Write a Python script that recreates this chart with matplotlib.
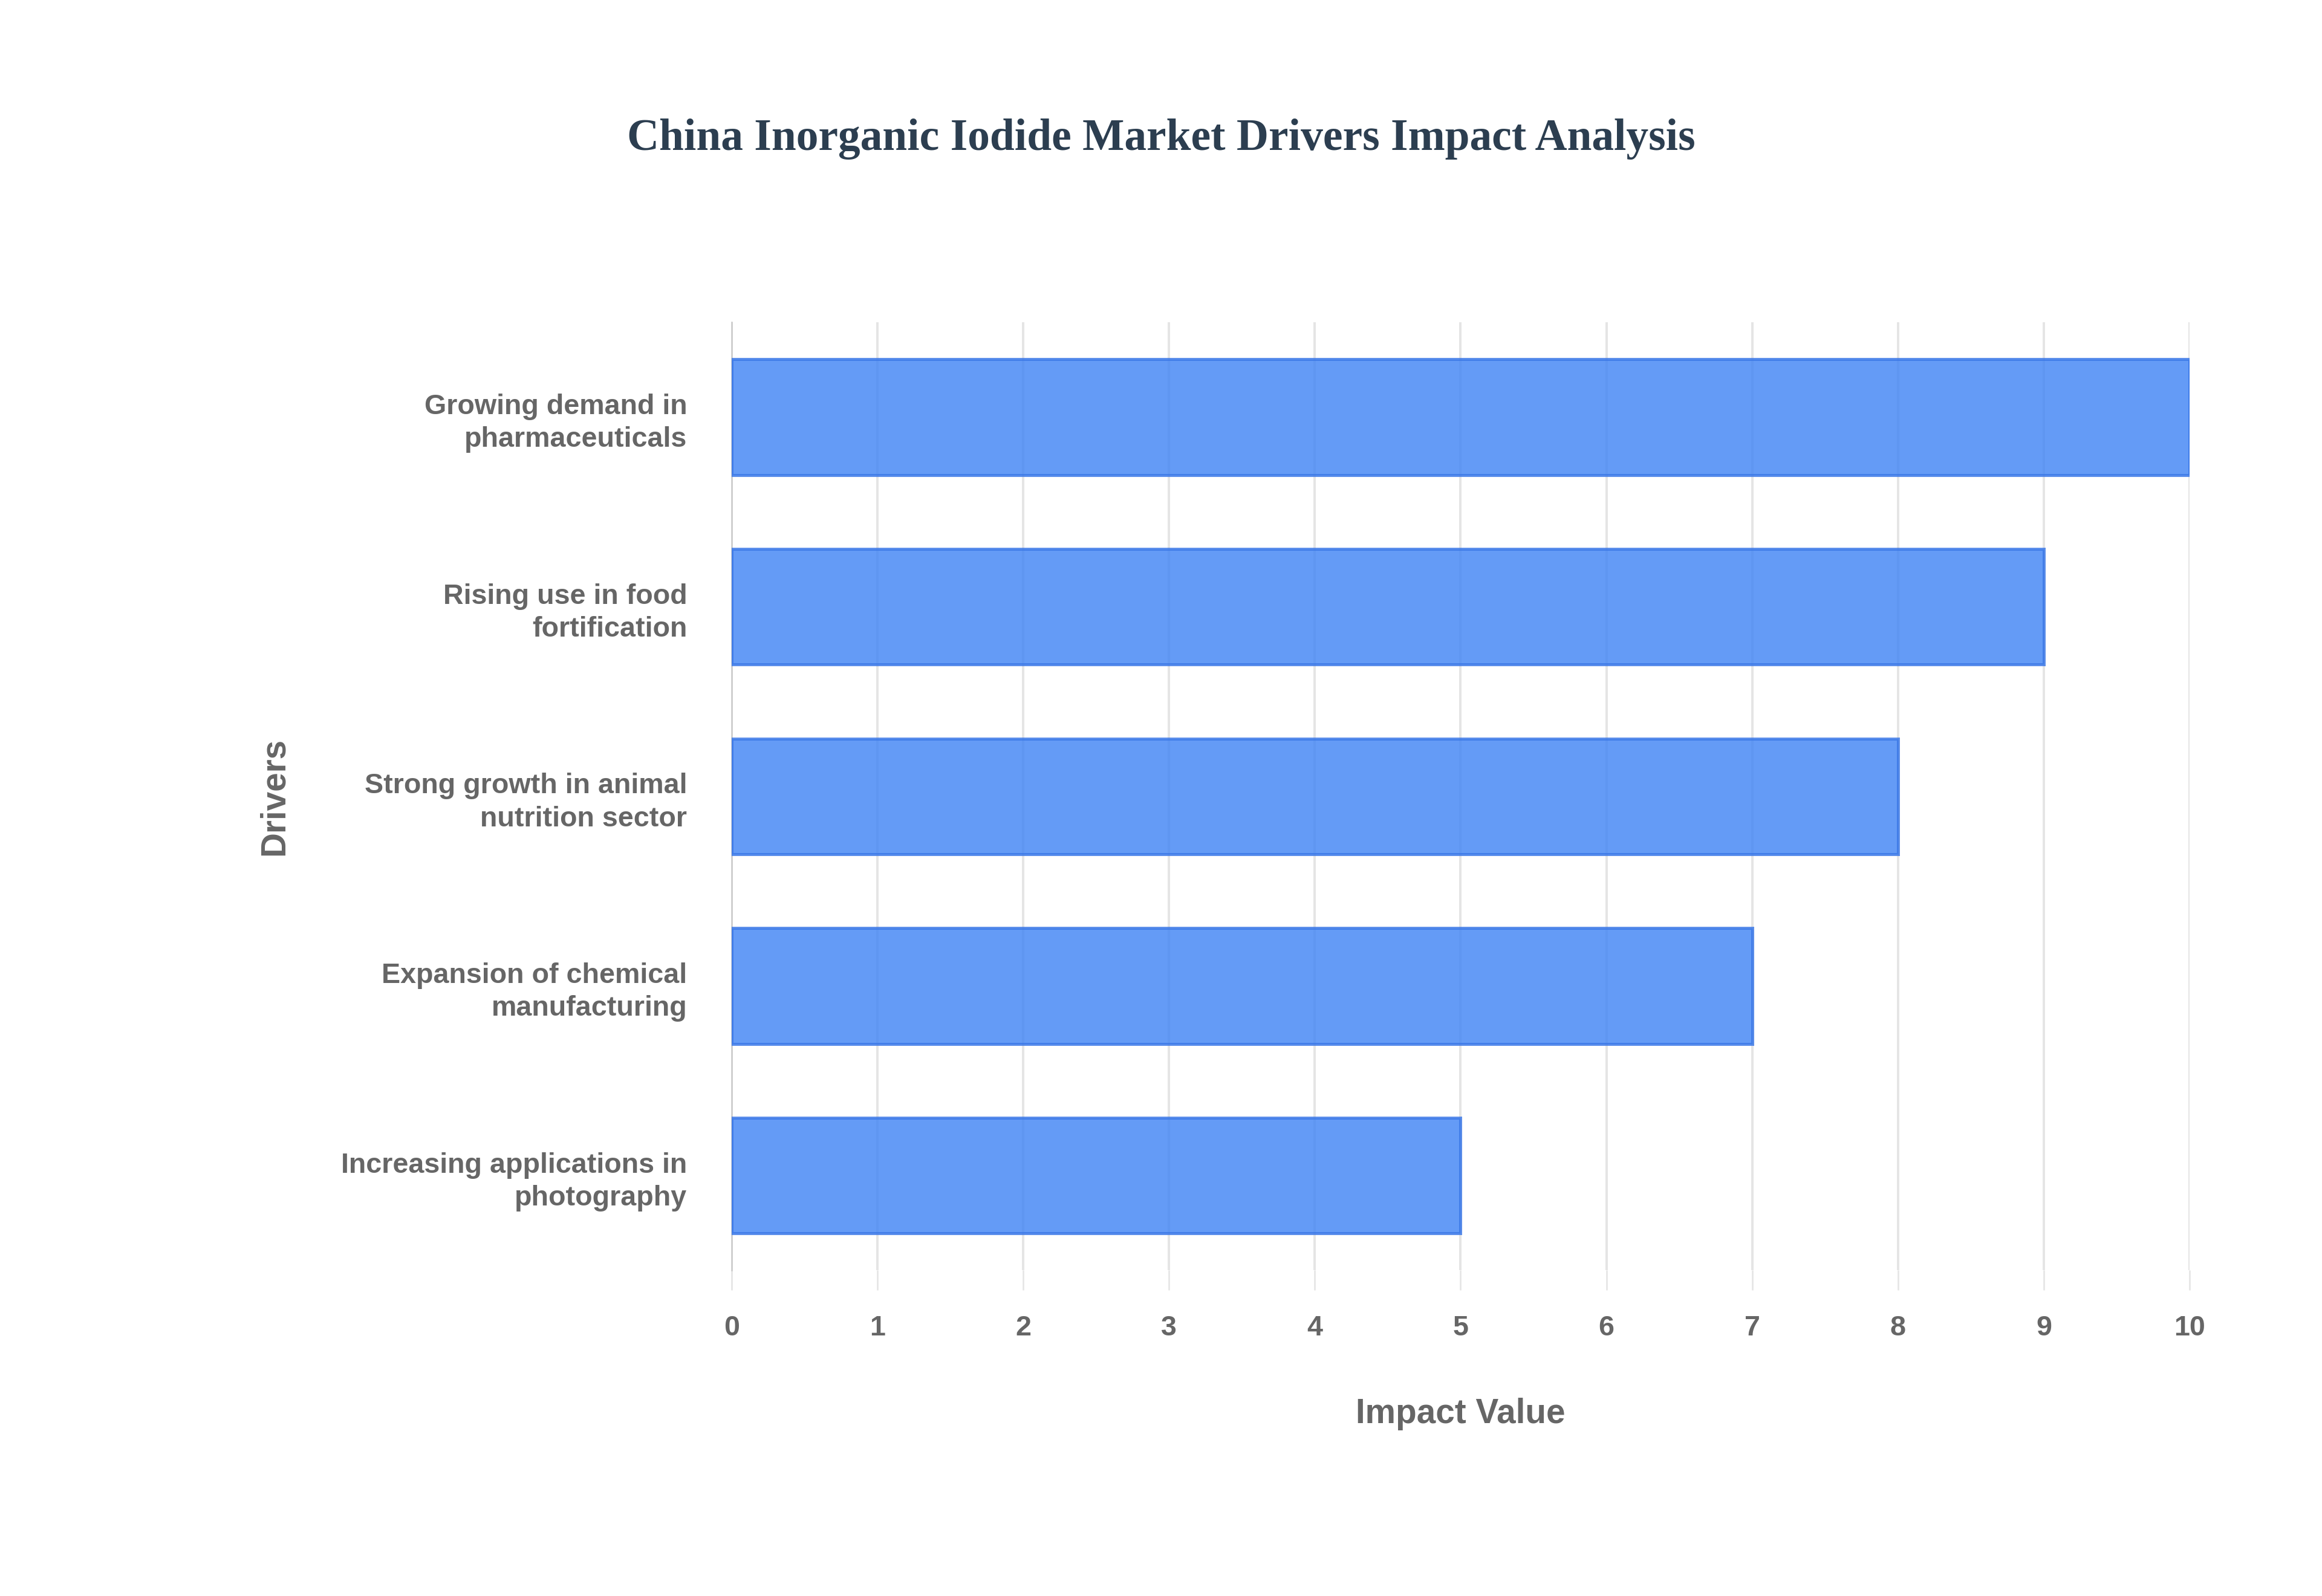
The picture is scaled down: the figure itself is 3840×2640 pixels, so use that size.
import matplotlib
matplotlib.use("Agg")
import matplotlib.pyplot as plt

drivers = ["Growing demand in\npharmaceuticals", "Rising use in food\nfortification",
           "Strong growth in animal\nnutrition sector", "Expansion of chemical\nmanufacturing",
           "Increasing applications in\nphotography"]
values = [10, 9, 8, 7, 5]
xticks = list(range(0, 11))

fig = plt.figure(figsize=(16, 11), dpi=240)
ax = fig.add_axes([0.315, 0.204, 0.628, 0.594])
ypos = list(range(len(drivers)))
ax.barh(ypos, values, height=0.61, color="#4285f4", alpha=0.82,
        edgecolor="#3b78e7", linewidth=1.5, zorder=3)
ax.set_ylim(len(drivers) - 0.5, -0.5)
ax.set_xlim(0, 10)
ax.set_xticks(xticks)
ax.set_yticks(ypos)
ax.set_yticklabels(drivers, fontsize=14, fontweight="bold", color="#666666",
                   family="Liberation Sans", linespacing=1.3)
for lab in ax.get_xticklabels():
    lab.set_fontsize(14); lab.set_fontweight("bold"); lab.set_color("#666666")
    lab.set_family("Liberation Sans")
ax.grid(axis="x", color="#e5e5e5", linewidth=1.2, zorder=0)
for s in ["top", "right", "bottom"]:
    ax.spines[s].set_visible(False)
ax.spines["left"].set_color("#cccccc")
ax.tick_params(axis="y", length=0, pad=22)
ax.tick_params(axis="x", length=10, color="#e5e5e5", pad=12)
ax.set_xlabel("Impact Value", fontsize=17, fontweight="bold", color="#666666",
              family="Liberation Sans", labelpad=28)
ax.set_ylabel("Drivers", fontsize=17, fontweight="bold", color="#666666",
              family="Liberation Sans", labelpad=25)
fig.text(0.5, 0.913, "China Inorganic Iodide Market Drivers Impact Analysis",
         ha="center", va="center", fontsize=22, fontweight="bold", color="#2c3e50",
         family="Liberation Serif")
fig.savefig("out.png", dpi=240, facecolor="white")
